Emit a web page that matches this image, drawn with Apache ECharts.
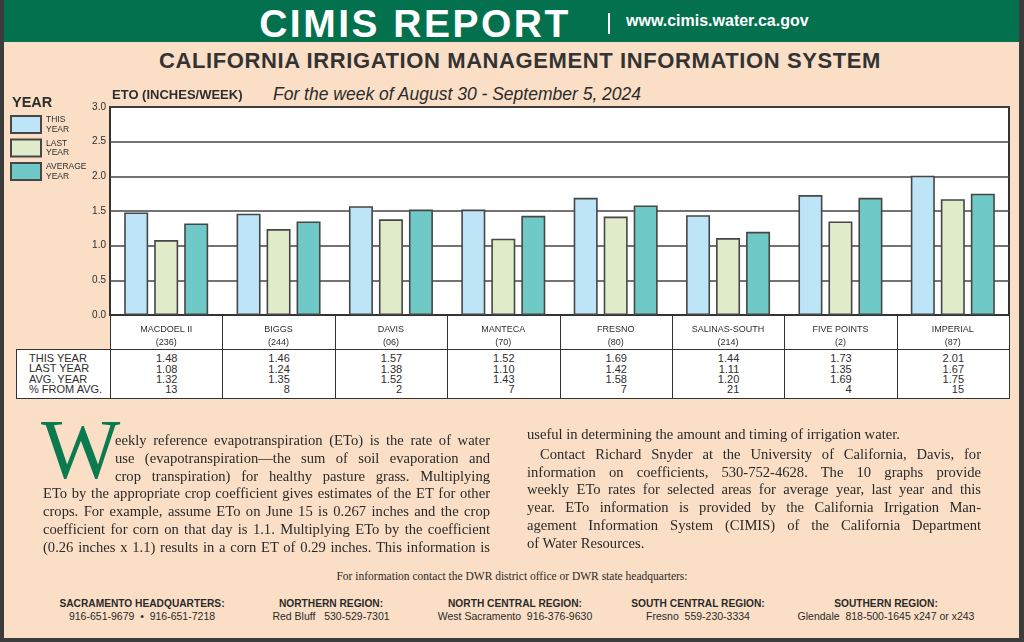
<!DOCTYPE html>
<html>
<head>
<meta charset="utf-8">
<script src="https://cdn.jsdelivr.net/npm/echarts@6/dist/echarts.min.js"></script>
<style>
  html, body { margin: 0; padding: 0; }
  body { width: 1024px; height: 642px; background: #3c3c3c; position: relative; overflow: hidden; font-family: "Liberation Sans", Arial, sans-serif; color: #2e2e2e; }
  .abs { position: absolute; }
  #page { left: 4px; top: 0; width: 1015px; height: 638px; background: #fadfc6; }
  #header { left: 4px; top: 0; width: 1015px; height: 42px; background: #03704e; }
  #brand { left: 0; width: 830px; top: 2px; text-align: center; color: #fff; font-weight: bold; font-size: 39px; letter-spacing: 2.5px; }
  #sep { left: 608px; top: 13px; width: 1.5px; height: 21px; background: #fff; }
  #url { left: 626px; top: 12px; color: #fff; font-size: 16px; font-weight: bold; }
  #maintitle { left: 0; width: 1040px; top: 48px; text-align: center; font-weight: bold; font-size: 22px; letter-spacing: 0.6px; color: #333; }
  #week { left: 273px; top: 84px; font-style: italic; font-size: 17.5px; color: #2b2b2b; }
  #labelrow, #datarow { background: #fff; border: 1.5px solid #333; box-sizing: border-box; display: flex; }
  #labelrow { left: 110px; top: 314px; width: 900px; height: 37px; }
  #datarow { left: 110px; top: 349px; width: 900px; height: 50px; }
  .cell { flex: 1; border-left: 1.5px solid #333; display: flex; justify-content: center; align-items: center; }
  .cell:first-child { border-left: none; }
  .vals { text-align: right; font-size: 11px; line-height: 10.4px; }
  #rowlabels { left: 16px; top: 349px; width: 95px; height: 50px; background: #fff; border: 1.5px solid #333; box-sizing: border-box; font-size: 11px; line-height: 10.4px; padding: 3px 0 0 12px; }
  #chart { left: 0; top: 0; width: 1024px; height: 420px; }
  .txt { font-family: "Liberation Serif", "Times New Roman", serif; font-size: 14.6px; line-height: 17.8px; color: #2a2a2a; }
  .j { text-align: justify; text-align-last: justify; white-space: nowrap; }
  #dropcap { left: 41px; top: 404px; font-family: "Liberation Serif", serif; font-size: 84px; line-height: 92px; color: #0b7a4f; }
  #footnote { left: 0; width: 1024px; top: 570px; text-align: center; font-family: "Liberation Serif", serif; font-size: 11.5px; color: #2a2a2a; }
  .region { top: 597px; width: 220px; text-align: center; font-size: 10.5px; line-height: 13px; color: #2a2a2a; }
  .region b { font-size: 10.2px; }
</style>
</head>
<body>
<div id="page" class="abs"></div>
<div id="header" class="abs"></div>
<div id="brand" class="abs">CIMIS REPORT</div>
<div id="sep" class="abs"></div>
<div id="url" class="abs">www.cimis.water.ca.gov</div>
<div id="maintitle" class="abs">CALIFORNIA IRRIGATION MANAGEMENT INFORMATION SYSTEM</div>
<div id="week" class="abs">For the week of August 30 - September 5, 2024</div>

<div id="labelrow" class="abs"></div>
<div id="datarow" class="abs"></div>
<div id="rowlabels" class="abs"></div>
<div id="chart" class="abs"></div>

<div id="dropcap" class="abs">W</div>
<div class="abs txt" style="left:115px;top:432px;width:375px;">
  <div class="j">eekly reference evapotranspiration (ETo) is the rate of water</div>
  <div class="j">use (evapotranspiration—the sum of soil evaporation and</div>
  <div class="j">crop transpiration) for healthy pasture grass. Multiplying</div>
</div>
<div class="abs txt" style="left:43px;top:485.4px;width:447px;">
  <div class="j">ETo by the appropriate crop coefficient gives estimates of the ET for other</div>
  <div class="j">crops. For example, assume ETo on June 15 is 0.267 inches and the crop</div>
  <div class="j">coefficient for corn on that day is 1.1. Multiplying ETo by the coefficient</div>
  <div class="j">(0.26 inches x 1.1) results in a corn ET of 0.29 inches. This information is</div>
</div>
<div class="abs txt" style="left:527px;top:426px;width:454px;">
  <div>useful in determining the amount and timing of irrigation water.</div>
  <div style="height:2px"></div>
  <div class="j" style="padding-left:13px">Contact Richard Snyder at the University of California, Davis, for</div>
  <div class="j">information on coefficients, 530-752-4628. The 10 graphs provide</div>
  <div class="j">weekly ETo rates for selected areas for average year, last year and this</div>
  <div class="j">year. ETo information is provided by the California Irrigation Man-</div>
  <div class="j">agement Information System (CIMIS) of the California Department</div>
  <div>of Water Resources.</div>
</div>

<div id="footnote" class="abs">For information contact the DWR district office or DWR state headquarters:</div>
<div class="abs region" style="left:32px"><b>SACRAMENTO HEADQUARTERS:</b><br>916-651-9679 &nbsp;•&nbsp; 916-651-7218</div>
<div class="abs region" style="left:221px"><b>NORTHERN REGION:</b><br>Red Bluff &nbsp; 530-529-7301</div>
<div class="abs region" style="left:405px"><b>NORTH CENTRAL REGION:</b><br>West Sacramento &nbsp;916-376-9630</div>
<div class="abs region" style="left:588px"><b>SOUTH CENTRAL REGION:</b><br>Fresno &nbsp;559-230-3334</div>
<div class="abs region" style="left:776px"><b>SOUTHERN REGION:</b><br>Glendale &nbsp;818-500-1645 x247 or x243</div>

<script>
// stations on the x axis
const stations = ['MACDOEL II', 'BIGGS', 'DAVIS', 'MANTECA', 'FRESNO', 'SALINAS-SOUTH', 'FIVE POINTS', 'IMPERIAL'];
const stationIds = ['236', '244', '06', '70', '80', '214', '2', '87'];

// weekly ETo, inches
const thisYear = [1.48, 1.46, 1.57, 1.52, 1.69, 1.44, 1.73, 2.01];
const lastYear = [1.08, 1.24, 1.38, 1.10, 1.42, 1.11, 1.35, 1.67];
const avgYear = [1.32, 1.35, 1.52, 1.43, 1.58, 1.20, 1.69, 1.75];
const pctFromAvg = [13, 8, 2, 7, 7, 21, 4, 15];

const rowNames = ['THIS YEAR', 'LAST YEAR', 'AVG. YEAR', '% FROM AVG.'];
const yTicks = [0, 0.5, 1.0, 1.5, 2.0, 2.5, 3.0];

// table under the chart
const labelRow = document.getElementById('labelrow');
const dataRow = document.getElementById('datarow');
stations.forEach((s, i) => {
    const c1 = document.createElement('div');
    c1.className = 'cell';
    labelRow.appendChild(c1);
    const c2 = document.createElement('div');
    c2.className = 'cell';
    c2.innerHTML = `<div class="vals">${thisYear[i].toFixed(2)}<br>${lastYear[i].toFixed(2)}<br>${avgYear[i].toFixed(2)}<br>${pctFromAvg[i]}</div>`;
    dataRow.appendChild(c2);
});
document.getElementById('rowlabels').innerHTML = rowNames.join('<br>');

const chart = echarts.init(document.getElementById('chart'), null, { renderer: 'canvas' });

const barBorder = { borderColor: '#464646', borderWidth: 1.6 };

chart.setOption({
    animation: false,
    title: {
        text: 'YEAR',
        left: 7,
        top: 90,
        textStyle: { fontSize: 14.5, fontWeight: 'bold', color: '#2e2e2e', fontFamily: 'Liberation Sans' },
    },
    legend: {
        orient: 'vertical',
        left: 10,
        top: 115,
        padding: 0,
        itemWidth: 30,
        itemHeight: 17,
        itemGap: 4.5,
        icon: 'rect',
        formatter: (name) => name.replace(' ', '\n'),
        textStyle: { fontSize: 8.5, lineHeight: 9.5, color: '#2e2e2e', fontFamily: 'Liberation Sans' },
    },
    grid: {
        left: 110,
        top: 107,
        width: 899,
        height: 208,
        show: true,
        backgroundColor: '#fff',
        borderColor: '#333',
        borderWidth: 2,
    },
    xAxis: {
        type: 'category',
        data: stations,
        axisLine: { lineStyle: { color: '#333', width: 2 } },
        axisTick: { inside: true, length: 5, interval: 0, lineStyle: { color: '#333', width: 1.5 } },
        axisLabel: {
            interval: 0,
            margin: 8,
            fontSize: 9,
            lineHeight: 13,
            color: '#2e2e2e',
            fontFamily: 'Liberation Sans',
            formatter: (v, i) => `${v}\n(${stationIds[i]})`,
        },
    },
    yAxis: {
        type: 'value',
        min: yTicks[0],
        max: yTicks[yTicks.length - 1],
        interval: 0.5,
        name: 'ETO (INCHES/WEEK)',
        nameLocation: 'end',
        nameGap: 5,
        nameTextStyle: { align: 'left', fontSize: 13, fontWeight: 'bold', color: '#2e2e2e', padding: [0, 0, 0, 2], fontFamily: 'Liberation Sans' },
        axisLine: { show: false },
        axisTick: { show: false },
        axisLabel: { fontSize: 10, margin: 4, color: '#2e2e2e', formatter: (v) => v.toFixed(1), fontFamily: 'Liberation Sans' },
        splitLine: { lineStyle: { color: '#444', width: 1.5 } },
    },
    series: [
        { name: 'THIS YEAR', type: 'bar', data: thisYear, barWidth: 24, barGap: '25%', itemStyle: { color: '#bee4f8', ...barBorder } },
        { name: 'LAST YEAR', type: 'bar', data: lastYear, barWidth: 24, barGap: '25%', itemStyle: { color: '#e0ebca', ...barBorder } },
        { name: 'AVERAGE YEAR', type: 'bar', data: avgYear, barWidth: 24, barGap: '25%', itemStyle: { color: '#6fcac7', ...barBorder } },
    ],
});
</script>
</body>
</html>
